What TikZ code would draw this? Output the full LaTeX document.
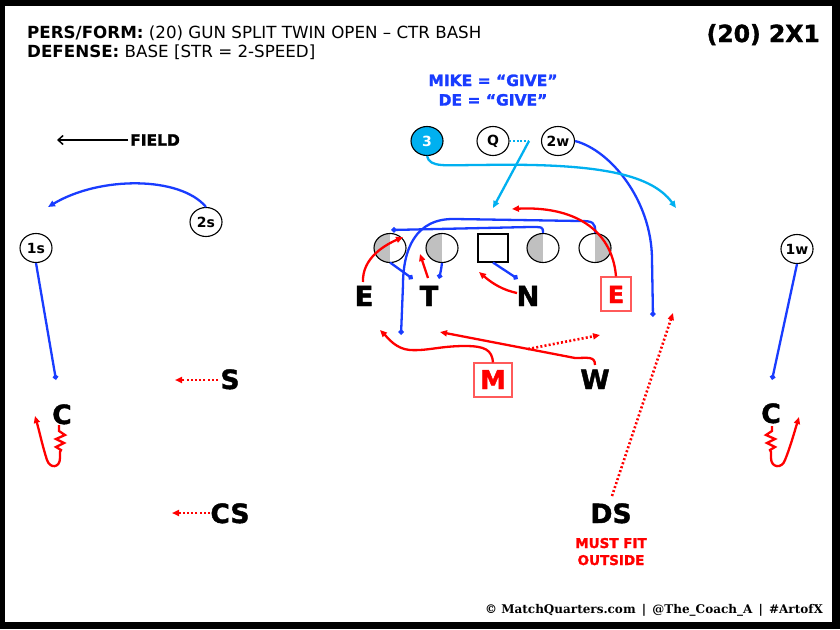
\documentclass[tikz,border=0pt]{standalone}
\usepackage{fontspec}
\setmainfont{DejaVu Sans}
\newfontfamily\footserif{DejaVu Serif}
\newfontfamily\heavy[FakeBold=1.6]{DejaVu Sans}
\usetikzlibrary{arrows.meta,shapes.geometric}
\definecolor{rblue}{RGB}{25,60,255}
\definecolor{rcyan}{RGB}{0,176,240}
\definecolor{rred}{RGB}{255,0,0}
\definecolor{boxred}{RGB}{255,90,90}
\definecolor{lgray}{RGB}{192,192,192}
\begin{document}
\begin{tikzpicture}[x=1pt,y=-1pt,
  player/.style={ellipse,draw,line width=1.1pt,minimum width=32pt,minimum height=29pt,inner sep=0pt,font=\fontsize{14}{14}\selectfont\bfseries},
  ol/.style={ellipse,draw,line width=1.1pt,minimum width=32pt,minimum height=29pt,inner sep=0pt},
  lhalf/.style={ol,path picture={\fill[lgray] (path picture bounding box.south west) rectangle (path picture bounding box.north);}},
  rhalf/.style={ol,path picture={\fill[lgray] (path picture bounding box.south east) rectangle (path picture bounding box.north);}},
  defl/.style={font=\heavy\bfseries\fontsize{27.5}{28}\selectfont,inner sep=0pt,anchor=base},
  boxed/.style={draw=boxred,line width=1.2pt,text=rred,inner sep=0pt},
  bl/.style={draw=rblue,line width=2.3pt,-{Diamond[length=6pt,width=6pt]}},
  blarr/.style={draw=rblue,line width=2.3pt,-{Triangle[length=7pt,width=6pt]}},
  cyarr/.style={draw=rcyan,line width=2.3pt,-{Triangle[length=7pt,width=6pt]}},
  rdarr/.style={draw=rred,line width=2.3pt,-{Triangle[length=7pt,width=6pt]}},
  rddot/.style={draw=rred,line width=2.6pt,dash pattern=on 2pt off 2.2pt,-{Triangle[length=7pt,width=6pt]}},
]
\useasboundingbox (0,0) rectangle (840,629);
\fill[black] (0,0) rectangle (840,629);
\fill[white] (5,6) rectangle (832,622);

% header
\node[anchor=base west,inner sep=0pt,font=\fontsize{16.7}{17}\selectfont] (h1) at (27,38) {\textbf{PERS/FORM:} (20) GUN SPLIT TWIN OPEN – CTR BASH};
\node[anchor=base west,inner sep=0pt,font=\fontsize{16.7}{17}\selectfont] (h2) at (27,57) {\textbf{DEFENSE:} BASE [STR = 2-SPEED]};
\node[anchor=base east,inner sep=0pt,font=\heavy\bfseries\fontsize{23.5}{24}\selectfont] (title) at (820,42) {(20) 2X1};
\node[anchor=base,inner sep=0pt,text=rblue,font=\heavy\bfseries\fontsize{15.5}{16}\selectfont] (n1) at (493,86) {MIKE = “GIVE”};
\node[anchor=base,inner sep=0pt,text=rblue,font=\heavy\bfseries\fontsize{15.5}{16}\selectfont] (n2) at (493,105.5) {DE = “GIVE”};

% field
\node[anchor=west,inner sep=0pt,font=\heavy\bfseries\fontsize{15.5}{16}\selectfont] (field) at (130,140) {FIELD};
\coordinate (fieldtip) at (57,140);
\draw[line width=1.5pt,-{Straight Barb[length=5pt,width=9pt]}] (field.west) ++(-2,0) -- (fieldtip);

% offense
\node[player,fill=rcyan,text=white] (b3) at (427,141) {3};
\node[player] (q) at (493,141) {Q};
\node[player,minimum width=33pt] (w2) at (558,141) {2w};
\node[player] (s1) at (36,248) {1s};
\node[player] (s2) at (206,222) {2s};
\node[player] (w1) at (797,249) {1w};

\node[lhalf] (lt) at (390,248) {};
\node[lhalf] (lg) at (442,248) {};
\node[draw,line width=1.1pt,minimum width=30pt,minimum height=28pt,inner sep=0pt] (c) at (493,248) {};
\node[lhalf] (rg) at (543,248) {};
\node[rhalf] (rt) at (595,248) {};

% defense
\node[defl] (de) at (364,306) {E};
\node[defl] (dt) at (429,306) {T};
\node[defl] (dn) at (528,306) {N};
\node[boxed,minimum width=30pt,minimum height=34pt] (debox) at (616,294) {};
\node[defl,text=rred,font=\heavy\bfseries\fontsize{23.5}{24}\selectfont] (de2) at (616,303) {E};
\node[boxed,minimum width=38pt,minimum height=34pt] (mbox) at (493,380) {};
\node[defl,text=rred,font=\heavy\bfseries\fontsize{26}{26}\selectfont] (mm) at (493,389) {M};
\node[defl,font=\heavy\bfseries\fontsize{26.5}{27}\selectfont] (ww) at (595,389) {W};
\node[defl,font=\heavy\bfseries\fontsize{26.5}{27}\selectfont] (ss) at (230,389) {S};
\node[defl,font=\heavy\bfseries\fontsize{26.5}{27}\selectfont] (cs) at (230,523) {CS};
\node[defl,font=\heavy\bfseries\fontsize{26.5}{27}\selectfont] (cl) at (62,424) {C};
\node[defl,font=\heavy\bfseries\fontsize{26.5}{27}\selectfont] (cr) at (771,423) {C};
\node[defl,font=\heavy\bfseries\fontsize{26.5}{27}\selectfont] (ds) at (611,523) {DS};
\node[anchor=base,inner sep=0pt,text=rred,font=\heavy\bfseries\fontsize{13.5}{14}\selectfont] (mf1) at (611,548) {MUST FIT};
\node[anchor=base,inner sep=0pt,text=rred,font=\heavy\bfseries\fontsize{13.5}{14}\selectfont] (mf2) at (611,565) {OUTSIDE};

% footer
\node[anchor=base east,inner sep=0pt,font=\footserif\bfseries\fontsize{12}{12}\selectfont] (foot) at (823,613) {© MatchQuarters.com \,|\, @The\_Coach\_A \,|\, \#ArtofX};

% coordinates
\coordinate (s1e) at (56,380);
\coordinate (s2e) at (48,207);
\coordinate (w1e) at (772,380);
\coordinate (w2e) at (653,317);
\coordinate (b3e) at (676,208);
\coordinate (qm) at (529,141);
\coordinate (qe) at (493,208);
\coordinate (lte) at (413,279);
\coordinate (lge) at (439,279);
\coordinate (ce) at (518,279);
\coordinate (rge) at (391,230);
\coordinate (rte) at (401,335);

% offense routes
\draw[blarr] (s2.north) .. controls (180,176) and (100,176) .. (s2e);
\draw[bl] (s1.south) -- (s1e);
\draw[bl] (w1.south) -- (w1e);
\draw[bl] (w2.east) .. controls (610,150) and (652,200) .. (652,260) -- (w2e);
\draw[cyarr] (b3.south) .. controls (430,168) and (445,165) .. (480,165) .. controls (590,163) and (650,172) .. (b3e);
\draw[draw=rcyan,line width=2.3pt,dash pattern=on 1.8pt off 1.8pt] (q.east) -- (qm);
\draw[cyarr] (qm) -- (qe);
\draw[bl] (390,262.5) -- (lte);
\draw[bl] (lg.south) .. controls (441,270) .. (lge);
\draw[bl] (c.south) -- (ce);
\draw[bl] (rg.north) .. controls (543,227) .. (530,227) -- (rge);
\draw[bl] (rt.north) .. controls (596,222) and (592,221) .. (580,221) -- (455,219) .. controls (415,218) and (403,250) .. (403,285) -- (rte);

% defense routes
\coordinate (dee) at (403,237);
\coordinate (dte) at (420,254);
\coordinate (dne) at (479,272);
\coordinate (de2e) at (512,209);
\coordinate (mme) at (380,330);
\coordinate (wwe) at (440,332);
\coordinate (wb) at (528,349);
\coordinate (wde) at (600,335);
\coordinate (dse) at (673,313);
\coordinate (sse) at (175,380);
\coordinate (cse) at (172,513);
\coordinate (cle) at (35,416);
\coordinate (cre) at (799,417);

\draw[rdarr] (363,282) .. controls (362,258) and (385,245) .. (dee);
\draw[rdarr] (428,278) -- (dte);
\draw[rdarr] (517,293) .. controls (503,290) and (493,284) .. (dne);
\draw[rdarr] (debox.north) .. controls (612,228) and (572,206) .. (de2e);
\draw[rdarr] (mbox.north) .. controls (492,350) and (485,346) .. (465,346) .. controls (440,346) and (428,351) .. (410,350) .. controls (396,349) and (388,338) .. (mme);
\draw[rdarr] (595,365) .. controls (595,356) and (588,358) .. (575,358) -- (wwe);
\draw[rddot] (wb) -- (wde);
\draw[rddot] (612,496) -- (dse);
\draw[rddot] (218,380) -- (sse);
\draw[rddot] (210,513) -- (cse);
\draw[rdarr] (59,425) -- (59,431) -- (65,435) -- (56,439) -- (64,443) -- (56,447) -- (61,450) -- (60,452) -- (60,458) .. controls (60,468) and (50,469) .. (47,460) .. controls (43,448) and (39,430) .. (cle);
\draw[rdarr] (772,426) -- (772,431) -- (766,435) -- (775,439) -- (767,443) -- (775,447) -- (770,450) -- (771,452) -- (771,458) .. controls (771,468) and (782,469) .. (785,460) .. controls (790,448) and (795,430) .. (cre);
\end{tikzpicture}
\end{document}
